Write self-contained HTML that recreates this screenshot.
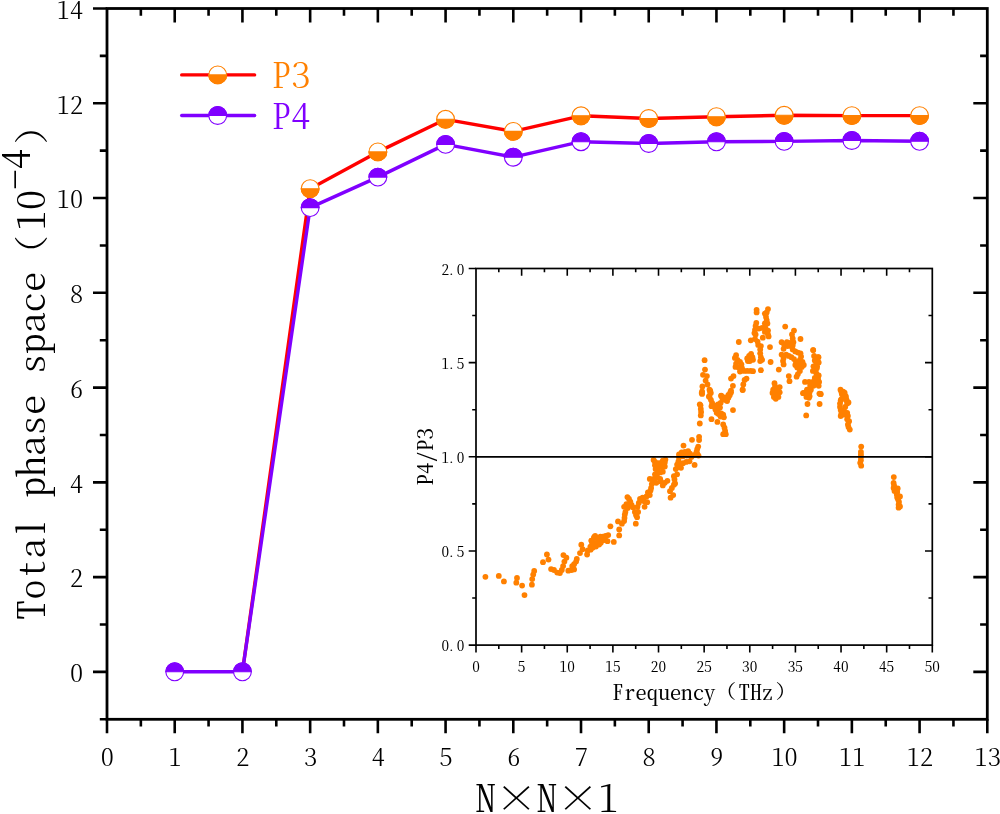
<!DOCTYPE html>
<html lang="en"><head><meta charset="utf-8"><title>Total phase space</title>
<style>html,body{margin:0;padding:0;background:#fff}svg{display:block}text{font-family:'Noto Serif CJK SC','Liberation Serif',serif;font-weight:300;font-feature-settings:"hwid" 1}.w{font-feature-settings:"hwid" 0}</style></head><body>
<svg width="1000" height="814" viewBox="0 0 1000 814">
<rect width="1000" height="814" fill="#fff"/>
<g stroke="#000" stroke-width="2.8" fill="none" stroke-linecap="butt">
<rect x="107.0" y="8.5" width="880.30" height="710.80"/>
<path stroke-width="2.6" d="M99.80 719.30H107.00M93.00 671.91H107.00M973.30 671.91H987.30M99.80 624.53H107.00M980.10 624.53H987.30M93.00 577.14H107.00M973.30 577.14H987.30M99.80 529.75H107.00M980.10 529.75H987.30M93.00 482.37H107.00M973.30 482.37H987.30M99.80 434.98H107.00M980.10 434.98H987.30M93.00 387.59H107.00M973.30 387.59H987.30M99.80 340.21H107.00M980.10 340.21H987.30M93.00 292.82H107.00M973.30 292.82H987.30M99.80 245.43H107.00M980.10 245.43H987.30M93.00 198.05H107.00M973.30 198.05H987.30M99.80 150.66H107.00M980.10 150.66H987.30M93.00 103.27H107.00M973.30 103.27H987.30M99.80 55.89H107.00M980.10 55.89H987.30M93.00 8.50H107.00M107.00 719.30V733.30M140.86 8.50V15.70M140.86 719.30V726.50M174.72 8.50V22.50M174.72 719.30V733.30M208.57 8.50V15.70M208.57 719.30V726.50M242.43 8.50V22.50M242.43 719.30V733.30M276.29 8.50V15.70M276.29 719.30V726.50M310.15 8.50V22.50M310.15 719.30V733.30M344.00 8.50V15.70M344.00 719.30V726.50M377.86 8.50V22.50M377.86 719.30V733.30M411.72 8.50V15.70M411.72 719.30V726.50M445.58 8.50V22.50M445.58 719.30V733.30M479.43 8.50V15.70M479.43 719.30V726.50M513.29 8.50V22.50M513.29 719.30V733.30M547.15 8.50V15.70M547.15 719.30V726.50M581.01 8.50V22.50M581.01 719.30V733.30M614.87 8.50V15.70M614.87 719.30V726.50M648.72 8.50V22.50M648.72 719.30V733.30M682.58 8.50V15.70M682.58 719.30V726.50M716.44 8.50V22.50M716.44 719.30V733.30M750.30 8.50V15.70M750.30 719.30V726.50M784.15 8.50V22.50M784.15 719.30V733.30M818.01 8.50V15.70M818.01 719.30V726.50M851.87 8.50V22.50M851.87 719.30V733.30M885.73 8.50V15.70M885.73 719.30V726.50M919.58 8.50V22.50M919.58 719.30V733.30M953.44 8.50V15.70M953.44 719.30V726.50M987.30 719.30V733.30"/>
</g>
<g fill="#000">
<text transform="scale(1.11 1)" font-size="23.67" text-anchor="middle" x="68.9" y="682.21">0</text>
<text transform="scale(1.11 1)" font-size="23.67" text-anchor="middle" x="68.9" y="587.44">2</text>
<text transform="scale(1.11 1)" font-size="23.67" text-anchor="middle" x="68.9" y="492.67">4</text>
<text transform="scale(1.11 1)" font-size="23.67" text-anchor="middle" x="68.9" y="397.89">6</text>
<text transform="scale(1.11 1)" font-size="23.67" text-anchor="middle" x="68.9" y="303.12">8</text>
<text transform="scale(1.11 1)" font-size="23.67" text-anchor="middle" x="57.0 68.9" y="208.35">10</text>
<text transform="scale(1.11 1)" font-size="23.67" text-anchor="middle" x="57.0 68.9" y="113.57">12</text>
<text transform="scale(1.11 1)" font-size="23.67" text-anchor="middle" x="57.0 68.9" y="18.8">14</text>
<text transform="scale(1.11 1)" font-size="23.67" text-anchor="middle" x="96.8" y="766.1">0</text>
<text transform="scale(1.11 1)" font-size="23.67" text-anchor="middle" x="157.8" y="766.1">1</text>
<text transform="scale(1.11 1)" font-size="23.67" text-anchor="middle" x="218.8" y="766.1">2</text>
<text transform="scale(1.11 1)" font-size="23.67" text-anchor="middle" x="279.8" y="766.1">3</text>
<text transform="scale(1.11 1)" font-size="23.67" text-anchor="middle" x="340.8" y="766.1">4</text>
<text transform="scale(1.11 1)" font-size="23.67" text-anchor="middle" x="401.8" y="766.1">5</text>
<text transform="scale(1.11 1)" font-size="23.67" text-anchor="middle" x="462.8" y="766.1">6</text>
<text transform="scale(1.11 1)" font-size="23.67" text-anchor="middle" x="523.8" y="766.1">7</text>
<text transform="scale(1.11 1)" font-size="23.67" text-anchor="middle" x="584.8" y="766.1">8</text>
<text transform="scale(1.11 1)" font-size="23.67" text-anchor="middle" x="645.8" y="766.1">9</text>
<text transform="scale(1.11 1)" font-size="23.67" text-anchor="middle" x="700.9 712.7" y="766.1">10</text>
<text transform="scale(1.11 1)" font-size="23.67" text-anchor="middle" x="761.9 773.7" y="766.1">11</text>
<text transform="scale(1.11 1)" font-size="23.67" text-anchor="middle" x="822.9 834.7" y="766.1">12</text>
<text transform="scale(1.11 1)" font-size="23.67" text-anchor="middle" x="883.9 895.7" y="766.1">13</text>
</g>
<text transform="scale(1.11 1)" font-size="36.90" text-anchor="middle" x="437.5 465.2 492.9 520.6 548.3" y="811.8">N<tspan class="w" font-size="38.9">×</tspan>N<tspan class="w" font-size="38.9">×</tspan>1</text>
<g transform="translate(45.2 620.2) rotate(-90)">
<text transform="scale(1.11 1)" font-size="36.90" text-anchor="middle" x="9.2 27.7 46.2 64.6 83.1 101.6 120.0 138.5 157.0 175.5 193.9 212.4 230.9 249.3 267.8 286.3 304.7 329.8 360.1 378.6 397.1 415.5 445.8" y="0">Total phase space<tspan class="w" font-size="34.4" dy="-1.64">（</tspan><tspan dy="1.64">1</tspan>0<tspan dy="-16.60">-</tspan><tspan dy="1.70">4</tspan><tspan class="w" font-size="34.4" dy="13.26">）</tspan></text>
</g>
<polyline fill="none" stroke="#ff0000" stroke-width="3.4" stroke-linejoin="round" stroke-linecap="round" points="242.43,671.80 310.15,188.70 377.86,151.90 445.58,119.30 513.29,131.40 581.01,115.80 648.72,118.50 716.44,116.70 784.15,115.30 851.87,115.60 919.58,115.60"/>
<circle cx="310.15" cy="188.70" r="8.9" fill="#fff" stroke="#ff8000" stroke-width="1.1"/><path d="M301.25 188.70A8.9 8.9 0 0 0 319.05 188.70Z" fill="#ff8000" stroke="#ff8000" stroke-width="1.1"/>
<circle cx="377.86" cy="151.90" r="8.9" fill="#fff" stroke="#ff8000" stroke-width="1.1"/><path d="M368.96 151.90A8.9 8.9 0 0 0 386.76 151.90Z" fill="#ff8000" stroke="#ff8000" stroke-width="1.1"/>
<circle cx="445.58" cy="119.30" r="8.9" fill="#fff" stroke="#ff8000" stroke-width="1.1"/><path d="M436.68 119.30A8.9 8.9 0 0 0 454.48 119.30Z" fill="#ff8000" stroke="#ff8000" stroke-width="1.1"/>
<circle cx="513.29" cy="131.40" r="8.9" fill="#fff" stroke="#ff8000" stroke-width="1.1"/><path d="M504.39 131.40A8.9 8.9 0 0 0 522.19 131.40Z" fill="#ff8000" stroke="#ff8000" stroke-width="1.1"/>
<circle cx="581.01" cy="115.80" r="8.9" fill="#fff" stroke="#ff8000" stroke-width="1.1"/><path d="M572.11 115.80A8.9 8.9 0 0 0 589.91 115.80Z" fill="#ff8000" stroke="#ff8000" stroke-width="1.1"/>
<circle cx="648.72" cy="118.50" r="8.9" fill="#fff" stroke="#ff8000" stroke-width="1.1"/><path d="M639.82 118.50A8.9 8.9 0 0 0 657.62 118.50Z" fill="#ff8000" stroke="#ff8000" stroke-width="1.1"/>
<circle cx="716.44" cy="116.70" r="8.9" fill="#fff" stroke="#ff8000" stroke-width="1.1"/><path d="M707.54 116.70A8.9 8.9 0 0 0 725.34 116.70Z" fill="#ff8000" stroke="#ff8000" stroke-width="1.1"/>
<circle cx="784.15" cy="115.30" r="8.9" fill="#fff" stroke="#ff8000" stroke-width="1.1"/><path d="M775.25 115.30A8.9 8.9 0 0 0 793.05 115.30Z" fill="#ff8000" stroke="#ff8000" stroke-width="1.1"/>
<circle cx="851.87" cy="115.60" r="8.9" fill="#fff" stroke="#ff8000" stroke-width="1.1"/><path d="M842.97 115.60A8.9 8.9 0 0 0 860.77 115.60Z" fill="#ff8000" stroke="#ff8000" stroke-width="1.1"/>
<circle cx="919.58" cy="115.60" r="8.9" fill="#fff" stroke="#ff8000" stroke-width="1.1"/><path d="M910.68 115.60A8.9 8.9 0 0 0 928.48 115.60Z" fill="#ff8000" stroke="#ff8000" stroke-width="1.1"/>
<polyline fill="none" stroke="#8000ff" stroke-width="3.4" stroke-linejoin="round" stroke-linecap="round" points="174.72,671.80 242.43,671.80 310.15,207.60 377.86,177.10 445.58,144.40 513.29,157.20 581.01,141.70 648.72,143.50 716.44,141.80 784.15,141.40 851.87,140.50 919.58,141.30"/>
<circle cx="174.72" cy="671.80" r="8.9" fill="#fff" stroke="#8000ff" stroke-width="1.1"/><path d="M165.82 671.80A8.9 8.9 0 0 1 183.62 671.80Z" fill="#8000ff" stroke="#8000ff" stroke-width="1.1"/>
<circle cx="242.43" cy="671.80" r="8.9" fill="#fff" stroke="#8000ff" stroke-width="1.1"/><path d="M233.53 671.80A8.9 8.9 0 0 1 251.33 671.80Z" fill="#8000ff" stroke="#8000ff" stroke-width="1.1"/>
<circle cx="310.15" cy="207.60" r="8.9" fill="#fff" stroke="#8000ff" stroke-width="1.1"/><path d="M301.25 207.60A8.9 8.9 0 0 1 319.05 207.60Z" fill="#8000ff" stroke="#8000ff" stroke-width="1.1"/>
<circle cx="377.86" cy="177.10" r="8.9" fill="#fff" stroke="#8000ff" stroke-width="1.1"/><path d="M368.96 177.10A8.9 8.9 0 0 1 386.76 177.10Z" fill="#8000ff" stroke="#8000ff" stroke-width="1.1"/>
<circle cx="445.58" cy="144.40" r="8.9" fill="#fff" stroke="#8000ff" stroke-width="1.1"/><path d="M436.68 144.40A8.9 8.9 0 0 1 454.48 144.40Z" fill="#8000ff" stroke="#8000ff" stroke-width="1.1"/>
<circle cx="513.29" cy="157.20" r="8.9" fill="#fff" stroke="#8000ff" stroke-width="1.1"/><path d="M504.39 157.20A8.9 8.9 0 0 1 522.19 157.20Z" fill="#8000ff" stroke="#8000ff" stroke-width="1.1"/>
<circle cx="581.01" cy="141.70" r="8.9" fill="#fff" stroke="#8000ff" stroke-width="1.1"/><path d="M572.11 141.70A8.9 8.9 0 0 1 589.91 141.70Z" fill="#8000ff" stroke="#8000ff" stroke-width="1.1"/>
<circle cx="648.72" cy="143.50" r="8.9" fill="#fff" stroke="#8000ff" stroke-width="1.1"/><path d="M639.82 143.50A8.9 8.9 0 0 1 657.62 143.50Z" fill="#8000ff" stroke="#8000ff" stroke-width="1.1"/>
<circle cx="716.44" cy="141.80" r="8.9" fill="#fff" stroke="#8000ff" stroke-width="1.1"/><path d="M707.54 141.80A8.9 8.9 0 0 1 725.34 141.80Z" fill="#8000ff" stroke="#8000ff" stroke-width="1.1"/>
<circle cx="784.15" cy="141.40" r="8.9" fill="#fff" stroke="#8000ff" stroke-width="1.1"/><path d="M775.25 141.40A8.9 8.9 0 0 1 793.05 141.40Z" fill="#8000ff" stroke="#8000ff" stroke-width="1.1"/>
<circle cx="851.87" cy="140.50" r="8.9" fill="#fff" stroke="#8000ff" stroke-width="1.1"/><path d="M842.97 140.50A8.9 8.9 0 0 1 860.77 140.50Z" fill="#8000ff" stroke="#8000ff" stroke-width="1.1"/>
<circle cx="919.58" cy="141.30" r="8.9" fill="#fff" stroke="#8000ff" stroke-width="1.1"/><path d="M910.68 141.30A8.9 8.9 0 0 1 928.48 141.30Z" fill="#8000ff" stroke="#8000ff" stroke-width="1.1"/>
<path d="M181.7 74.9H254.6" stroke="#ff0000" stroke-width="3.4" stroke-linecap="round"/>
<circle cx="217.70" cy="74.90" r="8.9" fill="#fff" stroke="#ff8000" stroke-width="1.1"/><path d="M208.80 74.90A8.9 8.9 0 0 0 226.60 74.90Z" fill="#ff8000" stroke="#ff8000" stroke-width="1.1"/>
<path d="M181.7 115.5H254.6" stroke="#8000ff" stroke-width="3.4" stroke-linecap="round"/>
<circle cx="217.70" cy="115.50" r="8.9" fill="#fff" stroke="#8000ff" stroke-width="1.1"/><path d="M208.80 115.50A8.9 8.9 0 0 1 226.60 115.50Z" fill="#8000ff" stroke="#8000ff" stroke-width="1.1"/>
<text transform="scale(1.11 1)" fill="#ff8000" font-size="34.47" text-anchor="middle" x="253.7 270.9" y="88.0">P3</text>
<text transform="scale(1.11 1)" fill="#8000ff" font-size="34.47" text-anchor="middle" x="253.7 270.9" y="128.7">P4</text>
<rect x="416.0" y="256.5" width="541.3" height="448.6" fill="#fff"/>
<g fill="#ff8000">
<circle cx="485.4" cy="576.8" r="2.9"/><circle cx="498.8" cy="575.9" r="2.9"/><circle cx="503.9" cy="581.4" r="2.9"/><circle cx="517.0" cy="577.9" r="2.9"/><circle cx="516.3" cy="582.7" r="2.9"/><circle cx="522.1" cy="585.6" r="2.9"/><circle cx="524.5" cy="595.1" r="2.9"/><circle cx="531.9" cy="584.7" r="2.9"/><circle cx="532.2" cy="579.1" r="2.9"/><circle cx="533.2" cy="574.6" r="2.9"/><circle cx="534.2" cy="571.0" r="2.9"/><circle cx="543.0" cy="562.2" r="2.9"/><circle cx="546.9" cy="554.5" r="2.9"/><circle cx="548.5" cy="559.6" r="2.9"/><circle cx="551.1" cy="569.1" r="2.9"/><circle cx="554.0" cy="570.0" r="2.9"/><circle cx="557.2" cy="572.6" r="2.9"/><circle cx="559.9" cy="573.0" r="2.9"/><circle cx="561.8" cy="570.0" r="2.9"/><circle cx="563.1" cy="566.1" r="2.9"/><circle cx="564.4" cy="561.6" r="2.9"/><circle cx="563.4" cy="555.1" r="2.9"/><circle cx="566.4" cy="557.7" r="2.9"/><circle cx="568.3" cy="570.7" r="2.9"/><circle cx="571.5" cy="570.0" r="2.9"/><circle cx="574.1" cy="569.4" r="2.9"/><circle cx="572.2" cy="566.1" r="2.9"/><circle cx="574.1" cy="564.2" r="2.9"/><circle cx="576.1" cy="561.6" r="2.9"/><circle cx="576.8" cy="559.0" r="2.9"/><circle cx="580.0" cy="553.1" r="2.9"/><circle cx="581.3" cy="544.7" r="2.9"/><circle cx="582.6" cy="549.2" r="2.9"/><circle cx="587.1" cy="554.5" r="2.9"/><circle cx="587.8" cy="550.5" r="2.9"/><circle cx="590.4" cy="546.6" r="2.9"/><circle cx="591.7" cy="540.8" r="2.9"/><circle cx="594.3" cy="536.9" r="2.9"/><circle cx="595.6" cy="543.4" r="2.9"/><circle cx="598.2" cy="539.5" r="2.9"/><circle cx="600.8" cy="542.8" r="2.9"/><circle cx="602.8" cy="536.9" r="2.9"/><circle cx="604.7" cy="539.5" r="2.9"/><circle cx="591.3" cy="540.6" r="2.9"/><circle cx="593.9" cy="538.0" r="2.9"/><circle cx="595.2" cy="536.0" r="2.9"/><circle cx="597.8" cy="538.0" r="2.9"/><circle cx="600.4" cy="536.7" r="2.9"/><circle cx="603.0" cy="536.7" r="2.9"/><circle cx="605.6" cy="536.0" r="2.9"/><circle cx="608.2" cy="535.1" r="2.9"/><circle cx="592.0" cy="544.5" r="2.9"/><circle cx="595.2" cy="543.2" r="2.9"/><circle cx="598.5" cy="541.2" r="2.9"/><circle cx="601.7" cy="540.6" r="2.9"/><circle cx="605.0" cy="540.0" r="2.9"/><circle cx="607.5" cy="541.2" r="2.9"/><circle cx="592.6" cy="547.8" r="2.9"/><circle cx="595.9" cy="546.5" r="2.9"/><circle cx="599.1" cy="544.5" r="2.9"/><circle cx="590.6" cy="549.7" r="2.9"/><circle cx="613.8" cy="541.9" r="2.9"/><circle cx="610.4" cy="526.3" r="2.9"/><circle cx="619.2" cy="535.4" r="2.9"/><circle cx="619.2" cy="529.5" r="2.9"/><circle cx="618.0" cy="521.4" r="2.9"/><circle cx="621.9" cy="523.7" r="2.9"/><circle cx="624.1" cy="521.1" r="2.9"/><circle cx="624.5" cy="517.9" r="2.9"/><circle cx="624.8" cy="514.6" r="2.9"/><circle cx="625.4" cy="512.0" r="2.9"/><circle cx="624.1" cy="506.8" r="2.9"/><circle cx="626.4" cy="504.2" r="2.9"/><circle cx="627.4" cy="497.1" r="2.9"/><circle cx="629.0" cy="499.0" r="2.9"/><circle cx="630.3" cy="501.6" r="2.9"/><circle cx="631.6" cy="504.9" r="2.9"/><circle cx="632.9" cy="507.4" r="2.9"/><circle cx="627.7" cy="508.1" r="2.9"/><circle cx="634.9" cy="512.0" r="2.9"/><circle cx="636.1" cy="515.2" r="2.9"/><circle cx="637.1" cy="517.2" r="2.9"/><circle cx="635.8" cy="523.7" r="2.9"/><circle cx="638.1" cy="512.0" r="2.9"/><circle cx="637.5" cy="506.8" r="2.9"/><circle cx="638.8" cy="502.9" r="2.9"/><circle cx="640.0" cy="499.0" r="2.9"/><circle cx="642.0" cy="500.3" r="2.9"/><circle cx="644.6" cy="501.6" r="2.9"/><circle cx="647.2" cy="502.2" r="2.9"/><circle cx="644.6" cy="506.8" r="2.9"/><circle cx="642.6" cy="497.7" r="2.9"/><circle cx="646.5" cy="496.4" r="2.9"/><circle cx="647.9" cy="492.5" r="2.9"/><circle cx="649.8" cy="495.1" r="2.9"/><circle cx="651.1" cy="487.9" r="2.9"/><circle cx="650.5" cy="490.6" r="2.9"/><circle cx="649.8" cy="478.9" r="2.9"/><circle cx="652.4" cy="479.5" r="2.9"/><circle cx="655.0" cy="478.2" r="2.9"/><circle cx="657.6" cy="477.6" r="2.9"/><circle cx="660.2" cy="478.9" r="2.9"/><circle cx="653.7" cy="482.1" r="2.9"/><circle cx="656.3" cy="482.8" r="2.9"/><circle cx="651.8" cy="484.1" r="2.9"/><circle cx="660.9" cy="481.4" r="2.9"/><circle cx="662.8" cy="485.4" r="2.9"/><circle cx="664.8" cy="482.8" r="2.9"/><circle cx="667.4" cy="480.8" r="2.9"/><circle cx="655.0" cy="474.3" r="2.9"/><circle cx="657.6" cy="473.0" r="2.9"/><circle cx="660.2" cy="472.4" r="2.9"/><circle cx="662.8" cy="471.7" r="2.9"/><circle cx="655.6" cy="469.1" r="2.9"/><circle cx="658.2" cy="467.8" r="2.9"/><circle cx="661.5" cy="467.1" r="2.9"/><circle cx="664.8" cy="466.5" r="2.9"/><circle cx="655.0" cy="465.2" r="2.9"/><circle cx="658.2" cy="463.2" r="2.9"/><circle cx="661.5" cy="462.6" r="2.9"/><circle cx="664.8" cy="462.6" r="2.9"/><circle cx="655.0" cy="461.9" r="2.9"/><circle cx="662.8" cy="460.6" r="2.9"/><circle cx="670.6" cy="497.7" r="2.9"/><circle cx="673.2" cy="495.1" r="2.9"/><circle cx="670.0" cy="491.2" r="2.9"/><circle cx="671.9" cy="487.9" r="2.9"/><circle cx="673.9" cy="484.7" r="2.9"/><circle cx="675.1" cy="483.4" r="2.9"/><circle cx="674.5" cy="479.5" r="2.9"/><circle cx="673.9" cy="476.2" r="2.9"/><circle cx="677.1" cy="474.3" r="2.9"/><circle cx="675.8" cy="469.1" r="2.9"/><circle cx="678.4" cy="467.1" r="2.9"/><circle cx="681.0" cy="467.8" r="2.9"/><circle cx="677.1" cy="464.6" r="2.9"/><circle cx="679.7" cy="463.2" r="2.9"/><circle cx="683.0" cy="463.2" r="2.9"/><circle cx="686.2" cy="461.9" r="2.9"/><circle cx="689.5" cy="461.3" r="2.9"/><circle cx="678.4" cy="461.3" r="2.9"/><circle cx="694.6" cy="464.9" r="2.9"/><circle cx="653.6" cy="459.9" r="2.9"/><circle cx="665.4" cy="459.6" r="2.9"/><circle cx="679.0" cy="454.4" r="2.9"/><circle cx="681.6" cy="452.4" r="2.9"/><circle cx="684.9" cy="451.8" r="2.9"/><circle cx="688.1" cy="451.1" r="2.9"/><circle cx="690.0" cy="453.7" r="2.9"/><circle cx="679.0" cy="457.6" r="2.9"/><circle cx="682.9" cy="456.3" r="2.9"/><circle cx="686.8" cy="455.6" r="2.9"/><circle cx="691.4" cy="456.9" r="2.9"/><circle cx="694.6" cy="455.0" r="2.9"/><circle cx="697.2" cy="453.7" r="2.9"/><circle cx="698.5" cy="455.6" r="2.9"/><circle cx="683.5" cy="445.6" r="2.9"/><circle cx="692.0" cy="439.8" r="2.9"/><circle cx="699.1" cy="436.8" r="2.9"/><circle cx="699.1" cy="440.1" r="2.9"/><circle cx="698.2" cy="446.6" r="2.9"/><circle cx="697.2" cy="449.1" r="2.9"/><circle cx="696.5" cy="451.8" r="2.9"/><circle cx="699.8" cy="423.5" r="2.9"/><circle cx="700.8" cy="415.4" r="2.9"/><circle cx="701.1" cy="412.1" r="2.9"/><circle cx="700.8" cy="408.9" r="2.9"/><circle cx="700.5" cy="405.3" r="2.9"/><circle cx="699.8" cy="404.3" r="2.9"/><circle cx="702.1" cy="393.9" r="2.9"/><circle cx="702.1" cy="391.3" r="2.9"/><circle cx="711.5" cy="419.2" r="2.9"/><circle cx="717.4" cy="421.9" r="2.9"/><circle cx="723.2" cy="424.4" r="2.9"/><circle cx="724.5" cy="427.7" r="2.9"/><circle cx="725.1" cy="430.9" r="2.9"/><circle cx="725.8" cy="434.2" r="2.9"/><circle cx="723.2" cy="434.2" r="2.9"/><circle cx="733.0" cy="410.1" r="2.9"/><circle cx="708.9" cy="396.5" r="2.9"/><circle cx="710.9" cy="399.8" r="2.9"/><circle cx="712.1" cy="403.0" r="2.9"/><circle cx="711.5" cy="406.2" r="2.9"/><circle cx="714.8" cy="405.6" r="2.9"/><circle cx="718.0" cy="404.3" r="2.9"/><circle cx="720.6" cy="403.0" r="2.9"/><circle cx="715.4" cy="409.5" r="2.9"/><circle cx="718.0" cy="408.9" r="2.9"/><circle cx="720.0" cy="407.6" r="2.9"/><circle cx="716.7" cy="412.8" r="2.9"/><circle cx="718.6" cy="414.1" r="2.9"/><circle cx="721.2" cy="413.4" r="2.9"/><circle cx="723.2" cy="414.7" r="2.9"/><circle cx="723.9" cy="417.3" r="2.9"/><circle cx="720.6" cy="416.6" r="2.9"/><circle cx="721.2" cy="395.9" r="2.9"/><circle cx="722.5" cy="398.4" r="2.9"/><circle cx="724.5" cy="399.8" r="2.9"/><circle cx="727.1" cy="401.1" r="2.9"/><circle cx="728.4" cy="397.8" r="2.9"/><circle cx="729.7" cy="395.2" r="2.9"/><circle cx="731.0" cy="392.6" r="2.9"/><circle cx="710.2" cy="392.6" r="2.9"/><circle cx="710.2" cy="390.6" r="2.9"/><circle cx="731.0" cy="390.6" r="2.9"/><circle cx="742.7" cy="390.0" r="2.9"/><circle cx="704.6" cy="360.2" r="2.9"/><circle cx="705.0" cy="369.6" r="2.9"/><circle cx="703.0" cy="374.8" r="2.9"/><circle cx="706.9" cy="376.1" r="2.9"/><circle cx="705.6" cy="380.6" r="2.9"/><circle cx="707.5" cy="384.5" r="2.9"/><circle cx="702.4" cy="386.4" r="2.9"/><circle cx="709.5" cy="389.7" r="2.9"/><circle cx="701.7" cy="392.9" r="2.9"/><circle cx="710.8" cy="392.9" r="2.9"/><circle cx="709.5" cy="396.9" r="2.9"/><circle cx="721.2" cy="395.6" r="2.9"/><circle cx="724.5" cy="397.5" r="2.9"/><circle cx="728.4" cy="394.9" r="2.9"/><circle cx="730.3" cy="392.3" r="2.9"/><circle cx="732.9" cy="385.8" r="2.9"/><circle cx="731.0" cy="378.6" r="2.9"/><circle cx="733.5" cy="376.1" r="2.9"/><circle cx="742.6" cy="389.7" r="2.9"/><circle cx="743.3" cy="384.5" r="2.9"/><circle cx="744.6" cy="379.9" r="2.9"/><circle cx="746.5" cy="378.6" r="2.9"/><circle cx="736.1" cy="355.2" r="2.9"/><circle cx="734.9" cy="357.9" r="2.9"/><circle cx="737.5" cy="359.8" r="2.9"/><circle cx="740.0" cy="361.8" r="2.9"/><circle cx="741.4" cy="364.4" r="2.9"/><circle cx="736.1" cy="363.7" r="2.9"/><circle cx="735.5" cy="366.9" r="2.9"/><circle cx="738.8" cy="367.6" r="2.9"/><circle cx="742.0" cy="368.2" r="2.9"/><circle cx="740.0" cy="371.5" r="2.9"/><circle cx="744.0" cy="370.9" r="2.9"/><circle cx="747.2" cy="370.9" r="2.9"/><circle cx="750.5" cy="370.9" r="2.9"/><circle cx="753.0" cy="371.2" r="2.9"/><circle cx="747.2" cy="358.5" r="2.9"/><circle cx="749.1" cy="355.9" r="2.9"/><circle cx="751.1" cy="353.9" r="2.9"/><circle cx="752.4" cy="357.2" r="2.9"/><circle cx="753.0" cy="359.8" r="2.9"/><circle cx="749.8" cy="361.1" r="2.9"/><circle cx="747.9" cy="361.1" r="2.9"/><circle cx="738.8" cy="342.0" r="2.9"/><circle cx="750.8" cy="340.3" r="2.9"/><circle cx="755.0" cy="339.0" r="2.9"/><circle cx="757.6" cy="341.6" r="2.9"/><circle cx="758.2" cy="344.9" r="2.9"/><circle cx="760.9" cy="346.1" r="2.9"/><circle cx="760.2" cy="349.4" r="2.9"/><circle cx="760.2" cy="353.3" r="2.9"/><circle cx="760.9" cy="357.2" r="2.9"/><circle cx="762.1" cy="359.8" r="2.9"/><circle cx="760.2" cy="361.1" r="2.9"/><circle cx="760.9" cy="370.2" r="2.9"/><circle cx="770.6" cy="362.0" r="2.9"/><circle cx="770.0" cy="347.1" r="2.9"/><circle cx="756.6" cy="309.8" r="2.9"/><circle cx="756.6" cy="312.4" r="2.9"/><circle cx="768.0" cy="309.1" r="2.9"/><circle cx="766.7" cy="312.4" r="2.9"/><circle cx="764.8" cy="313.6" r="2.9"/><circle cx="766.0" cy="316.9" r="2.9"/><circle cx="766.7" cy="320.1" r="2.9"/><circle cx="767.4" cy="323.4" r="2.9"/><circle cx="756.3" cy="322.8" r="2.9"/><circle cx="755.6" cy="326.0" r="2.9"/><circle cx="755.0" cy="329.9" r="2.9"/><circle cx="754.4" cy="333.1" r="2.9"/><circle cx="755.6" cy="334.4" r="2.9"/><circle cx="758.9" cy="328.6" r="2.9"/><circle cx="762.1" cy="327.9" r="2.9"/><circle cx="765.4" cy="327.9" r="2.9"/><circle cx="768.0" cy="330.6" r="2.9"/><circle cx="764.8" cy="331.9" r="2.9"/><circle cx="768.0" cy="334.4" r="2.9"/><circle cx="762.8" cy="337.7" r="2.9"/><circle cx="768.6" cy="336.4" r="2.9"/><circle cx="764.8" cy="323.4" r="2.9"/><circle cx="785.2" cy="326.6" r="2.9"/><circle cx="794.0" cy="330.6" r="2.9"/><circle cx="792.0" cy="334.4" r="2.9"/><circle cx="792.7" cy="338.4" r="2.9"/><circle cx="793.4" cy="342.2" r="2.9"/><circle cx="790.1" cy="342.9" r="2.9"/><circle cx="786.9" cy="342.2" r="2.9"/><circle cx="781.6" cy="342.2" r="2.9"/><circle cx="784.2" cy="344.9" r="2.9"/><circle cx="783.6" cy="348.8" r="2.9"/><circle cx="787.5" cy="346.1" r="2.9"/><circle cx="790.8" cy="346.1" r="2.9"/><circle cx="792.7" cy="345.5" r="2.9"/><circle cx="800.5" cy="339.0" r="2.9"/><circle cx="781.6" cy="354.6" r="2.9"/><circle cx="783.6" cy="357.9" r="2.9"/><circle cx="783.0" cy="361.1" r="2.9"/><circle cx="783.6" cy="364.4" r="2.9"/><circle cx="786.2" cy="354.6" r="2.9"/><circle cx="788.8" cy="355.9" r="2.9"/><circle cx="791.4" cy="357.2" r="2.9"/><circle cx="794.0" cy="359.1" r="2.9"/><circle cx="792.7" cy="349.4" r="2.9"/><circle cx="795.3" cy="351.4" r="2.9"/><circle cx="797.9" cy="352.6" r="2.9"/><circle cx="800.5" cy="353.3" r="2.9"/><circle cx="801.1" cy="356.6" r="2.9"/><circle cx="799.9" cy="359.8" r="2.9"/><circle cx="802.5" cy="361.8" r="2.9"/><circle cx="803.8" cy="365.0" r="2.9"/><circle cx="801.8" cy="366.9" r="2.9"/><circle cx="798.5" cy="363.7" r="2.9"/><circle cx="796.0" cy="361.8" r="2.9"/><circle cx="797.2" cy="367.6" r="2.9"/><circle cx="799.9" cy="370.9" r="2.9"/><circle cx="797.9" cy="374.1" r="2.9"/><circle cx="796.6" cy="376.7" r="2.9"/><circle cx="795.3" cy="365.0" r="2.9"/><circle cx="778.8" cy="369.6" r="2.9"/><circle cx="788.8" cy="376.1" r="2.9"/><circle cx="789.5" cy="381.2" r="2.9"/><circle cx="774.5" cy="383.2" r="2.9"/><circle cx="775.1" cy="386.4" r="2.9"/><circle cx="773.2" cy="389.7" r="2.9"/><circle cx="777.8" cy="389.7" r="2.9"/><circle cx="779.7" cy="387.1" r="2.9"/><circle cx="772.5" cy="392.9" r="2.9"/><circle cx="776.5" cy="393.6" r="2.9"/><circle cx="779.7" cy="392.3" r="2.9"/><circle cx="773.9" cy="396.9" r="2.9"/><circle cx="778.4" cy="396.9" r="2.9"/><circle cx="775.8" cy="398.8" r="2.9"/><circle cx="813.2" cy="350.1" r="2.9"/><circle cx="814.1" cy="355.9" r="2.9"/><circle cx="818.0" cy="357.2" r="2.9"/><circle cx="814.8" cy="360.4" r="2.9"/><circle cx="818.7" cy="362.4" r="2.9"/><circle cx="813.5" cy="366.3" r="2.9"/><circle cx="816.8" cy="368.2" r="2.9"/><circle cx="812.9" cy="370.9" r="2.9"/><circle cx="816.1" cy="372.8" r="2.9"/><circle cx="818.7" cy="375.4" r="2.9"/><circle cx="814.8" cy="378.0" r="2.9"/><circle cx="818.0" cy="379.3" r="2.9"/><circle cx="805.0" cy="381.9" r="2.9"/><circle cx="809.0" cy="381.9" r="2.9"/><circle cx="812.9" cy="381.9" r="2.9"/><circle cx="816.8" cy="382.6" r="2.9"/><circle cx="810.2" cy="385.8" r="2.9"/><circle cx="813.5" cy="385.8" r="2.9"/><circle cx="807.0" cy="389.7" r="2.9"/><circle cx="810.9" cy="389.7" r="2.9"/><circle cx="803.8" cy="392.9" r="2.9"/><circle cx="807.6" cy="393.6" r="2.9"/><circle cx="806.4" cy="396.9" r="2.9"/><circle cx="809.6" cy="396.2" r="2.9"/><circle cx="819.4" cy="393.6" r="2.9"/><circle cx="818.7" cy="385.8" r="2.9"/><circle cx="813.2" cy="350.1" r="2.9"/><circle cx="818.5" cy="357.2" r="2.9"/><circle cx="817.1" cy="366.3" r="2.9"/><circle cx="817.1" cy="374.8" r="2.9"/><circle cx="819.1" cy="381.9" r="2.9"/><circle cx="817.8" cy="378.0" r="2.9"/><circle cx="815.9" cy="361.8" r="2.9"/><circle cx="820.7" cy="393.9" r="2.9"/><circle cx="840.5" cy="389.7" r="2.9"/><circle cx="843.1" cy="391.6" r="2.9"/><circle cx="844.5" cy="394.2" r="2.9"/><circle cx="841.9" cy="394.2" r="2.9"/><circle cx="845.1" cy="396.9" r="2.9"/><circle cx="841.2" cy="399.4" r="2.9"/><circle cx="846.4" cy="399.4" r="2.9"/><circle cx="803.0" cy="393.2" r="2.9"/><circle cx="806.2" cy="391.9" r="2.9"/><circle cx="809.5" cy="392.6" r="2.9"/><circle cx="807.5" cy="395.9" r="2.9"/><circle cx="808.9" cy="397.8" r="2.9"/><circle cx="807.5" cy="404.0" r="2.9"/><circle cx="806.2" cy="415.4" r="2.9"/><circle cx="820.5" cy="394.2" r="2.9"/><circle cx="819.6" cy="404.0" r="2.9"/><circle cx="841.4" cy="391.9" r="2.9"/><circle cx="844.6" cy="392.6" r="2.9"/><circle cx="843.3" cy="395.2" r="2.9"/><circle cx="845.9" cy="396.5" r="2.9"/><circle cx="840.7" cy="400.4" r="2.9"/><circle cx="840.0" cy="403.6" r="2.9"/><circle cx="840.0" cy="406.9" r="2.9"/><circle cx="840.7" cy="410.1" r="2.9"/><circle cx="841.4" cy="413.4" r="2.9"/><circle cx="840.7" cy="416.0" r="2.9"/><circle cx="844.0" cy="410.8" r="2.9"/><circle cx="845.2" cy="406.9" r="2.9"/><circle cx="847.2" cy="403.6" r="2.9"/><circle cx="848.5" cy="402.4" r="2.9"/><circle cx="846.5" cy="400.4" r="2.9"/><circle cx="847.2" cy="412.8" r="2.9"/><circle cx="847.9" cy="416.0" r="2.9"/><circle cx="847.2" cy="419.2" r="2.9"/><circle cx="849.1" cy="421.2" r="2.9"/><circle cx="847.9" cy="424.4" r="2.9"/><circle cx="848.5" cy="427.1" r="2.9"/><circle cx="849.8" cy="429.6" r="2.9"/><circle cx="844.6" cy="414.7" r="2.9"/><circle cx="861.2" cy="446.6" r="2.9"/><circle cx="860.9" cy="451.8" r="2.9"/><circle cx="860.9" cy="454.4" r="2.9"/><circle cx="860.9" cy="456.9" r="2.9"/><circle cx="860.9" cy="460.2" r="2.9"/><circle cx="860.2" cy="462.8" r="2.9"/><circle cx="861.2" cy="465.7" r="2.9"/><circle cx="893.8" cy="477.1" r="2.9"/><circle cx="893.6" cy="482.9" r="2.9"/><circle cx="894.1" cy="485.6" r="2.9"/><circle cx="893.6" cy="487.9" r="2.9"/><circle cx="897.7" cy="488.4" r="2.9"/><circle cx="894.5" cy="491.1" r="2.9"/><circle cx="897.2" cy="491.9" r="2.9"/><circle cx="896.8" cy="494.6" r="2.9"/><circle cx="900.0" cy="496.4" r="2.9"/><circle cx="897.2" cy="497.4" r="2.9"/><circle cx="898.1" cy="499.6" r="2.9"/><circle cx="899.0" cy="501.9" r="2.9"/><circle cx="898.6" cy="504.6" r="2.9"/><circle cx="900.0" cy="506.4" r="2.9"/><circle cx="898.6" cy="507.7" r="2.9"/>
</g>
<g stroke="#000" stroke-width="1.7" fill="none">
<path d="M476.0 456.80H932.3"/>
<rect x="476.0" y="268.5" width="456.30" height="376.60"/>
<path stroke-width="1.6" d="M468.70 645.10H476.00M472.20 598.02H476.00M928.50 598.02H932.30M468.70 550.95H476.00M925.00 550.95H932.30M472.20 503.88H476.00M928.50 503.88H932.30M468.70 456.80H476.00M925.00 456.80H932.30M472.20 409.73H476.00M928.50 409.73H932.30M468.70 362.65H476.00M925.00 362.65H932.30M472.20 315.57H476.00M928.50 315.57H932.30M468.70 268.50H476.00M476.00 645.10V652.40M498.81 268.50V272.30M498.81 645.10V648.90M521.63 268.50V275.80M521.63 645.10V652.40M544.44 268.50V272.30M544.44 645.10V648.90M567.26 268.50V275.80M567.26 645.10V652.40M590.08 268.50V272.30M590.08 645.10V648.90M612.89 268.50V275.80M612.89 645.10V652.40M635.70 268.50V272.30M635.70 645.10V648.90M658.52 268.50V275.80M658.52 645.10V652.40M681.33 268.50V272.30M681.33 645.10V648.90M704.15 268.50V275.80M704.15 645.10V652.40M726.96 268.50V272.30M726.96 645.10V648.90M749.78 268.50V275.80M749.78 645.10V652.40M772.60 268.50V272.30M772.60 645.10V648.90M795.41 268.50V275.80M795.41 645.10V652.40M818.23 268.50V272.30M818.23 645.10V648.90M841.04 268.50V275.80M841.04 645.10V652.40M863.85 268.50V272.30M863.85 645.10V648.90M886.67 268.50V275.80M886.67 645.10V652.40M909.48 268.50V272.30M909.48 645.10V648.90M932.30 645.10V652.40"/>
</g>
<g fill="#000">
<text transform="scale(1.11 1)" style="font-weight:400" font-size="13.77" text-anchor="middle" x="401.2 406.5 415.0" y="651.3">0.0</text>
<text transform="scale(1.11 1)" style="font-weight:400" font-size="13.77" text-anchor="middle" x="401.2 406.5 415.0" y="557.15">0.5</text>
<text transform="scale(1.11 1)" style="font-weight:400" font-size="13.77" text-anchor="middle" x="401.2 406.5 415.0" y="463.0">1.0</text>
<text transform="scale(1.11 1)" style="font-weight:400" font-size="13.77" text-anchor="middle" x="401.2 406.5 415.0" y="368.85">1.5</text>
<text transform="scale(1.11 1)" style="font-weight:400" font-size="13.77" text-anchor="middle" x="401.2 406.5 415.0" y="274.7">2.0</text>
<text transform="scale(1.11 1)" style="font-weight:400" font-size="13.77" text-anchor="middle" x="428.8" y="672.2">0</text>
<text transform="scale(1.11 1)" style="font-weight:400" font-size="13.77" text-anchor="middle" x="469.9" y="672.2">5</text>
<text transform="scale(1.11 1)" style="font-weight:400" font-size="13.77" text-anchor="middle" x="507.6 514.5" y="672.2">10</text>
<text transform="scale(1.11 1)" style="font-weight:400" font-size="13.77" text-anchor="middle" x="548.7 555.6" y="672.2">15</text>
<text transform="scale(1.11 1)" style="font-weight:400" font-size="13.77" text-anchor="middle" x="589.8 596.7" y="672.2">20</text>
<text transform="scale(1.11 1)" style="font-weight:400" font-size="13.77" text-anchor="middle" x="630.9 637.8" y="672.2">25</text>
<text transform="scale(1.11 1)" style="font-weight:400" font-size="13.77" text-anchor="middle" x="672.0 678.9" y="672.2">30</text>
<text transform="scale(1.11 1)" style="font-weight:400" font-size="13.77" text-anchor="middle" x="713.1 720.0" y="672.2">35</text>
<text transform="scale(1.11 1)" style="font-weight:400" font-size="13.77" text-anchor="middle" x="754.2 761.1" y="672.2">40</text>
<text transform="scale(1.11 1)" style="font-weight:400" font-size="13.77" text-anchor="middle" x="795.4 802.2" y="672.2">45</text>
<text transform="scale(1.11 1)" style="font-weight:400" font-size="13.77" text-anchor="middle" x="836.5 843.4" y="672.2">50</text>
</g>
<text transform="scale(1.11 1)" style="font-weight:400" font-size="20.70" text-anchor="middle" x="556.7 567.0 577.4 587.7 598.1 608.5 618.8 629.2 639.5 653.6 670.6 681.0 691.4 708.3" y="700.0">Frequency<tspan class="w" font-size="19.3" dy="-0.92">（</tspan><tspan dy="0.92">T</tspan>Hz<tspan class="w" font-size="19.3" dy="-0.92">）</tspan></text>
<g transform="translate(433.4 485.55) rotate(-90)">
<text transform="scale(1.11 1)" style="font-weight:400" font-size="20.70" text-anchor="middle" x="5.2 15.5 25.9 36.3 46.6" y="0">P4/P3</text>
</g>
</svg></body></html>
